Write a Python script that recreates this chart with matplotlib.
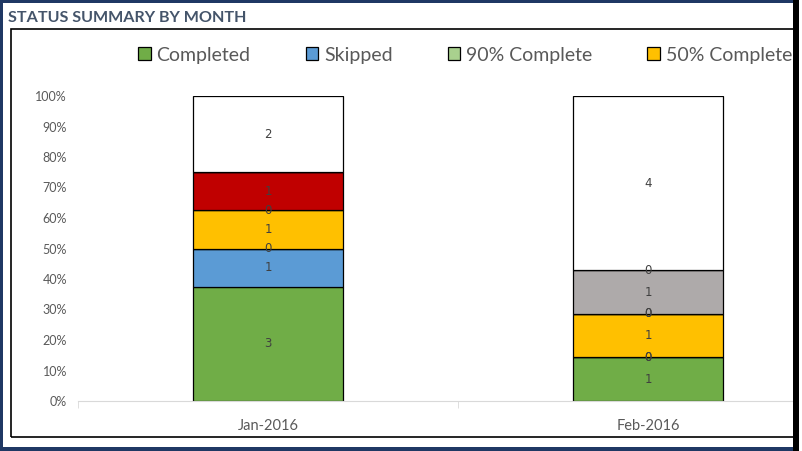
import matplotlib
matplotlib.use("Agg")
import matplotlib.pyplot as plt
import numpy as np
from matplotlib.patches import Rectangle
from matplotlib.ticker import PercentFormatter

months = ["Jan-2016", "Feb-2016"]
series = ["Completed", "Skipped", "90% Complete", "50% Complete", "25% Complete",
          "Overdue", "On Hold", "Deferred", "Not Started"]
colors = ["#70AD47", "#5B9BD5", "#A9D18E", "#FFC000", "#ED7D31",
          "#C00000", "#AEAAAA", "#7F7F7F", "#FFFFFF"]
counts = {
    "Jan-2016": [3, 1, 0, 1, 0, 1, 0, 0, 2],
    "Feb-2016": [1, 0, 0, 1, 0, 0, 1, 0, 4],
}
# labels the original chart does not show
hidden = {("Jan-2016", "On Hold"), ("Jan-2016", "Deferred")}
# legend entries visible before the torn edge
n_legend = 4

plt.rcParams['font.family'] = ['Lato', 'DejaVu Sans']
fig = plt.figure(figsize=(8.02, 4.51), dpi=100)
W, H = 802, 451

def box(x0, y0, x1, y1, **kw):
    fig.patches.append(Rectangle((x0 / W, 1 - y1 / H), (x1 - x0) / W, (y1 - y0) / H,
                                 transform=fig.transFigure, **kw))

# outer frame and chart box
box(0, 0, 802, 3, color="#1F3864", lw=0)
box(0, 0, 3, 451, color="#1F3864", lw=0)
box(0, 447, 802, 451, color="#1F3864", lw=0)
box(11, 29, 830, 437, fill=False, ec="black", lw=1.2)
fig.text(8 / W, 1 - 18 / H, "STATUS SUMMARY BY MONTH", fontsize=11.6, fontweight="bold",
         color="#44546A", va="center", ha="left")

ax = fig.add_axes([78 / W, 1 - 401 / H, 760 / W, 305 / H])
x = np.arange(len(months))
totals = np.array([sum(counts[m]) for m in months], dtype=float)
bottom = np.zeros(len(months))
for i, s in enumerate(series):
    vals = np.array([counts[m][i] for m in months], dtype=float)
    pct = vals / totals
    ax.bar(x, pct, 0.397, bottom=bottom, color=colors[i], edgecolor="black",
           linewidth=0.9, label=s)
    for j, m in enumerate(months):
        if (m, s) in hidden:
            continue
        ax.text(x[j], bottom[j] + pct[j] / 2, str(int(vals[j])), ha="center", va="center",
                fontsize=8.5, color="#404040", family="DejaVu Sans")
    bottom += pct

ax.set_xlim(-0.5, 1.5)
ax.set_ylim(0, 1)
ax.set_yticks(np.arange(0, 1.01, 0.1))
ax.yaxis.set_major_formatter(PercentFormatter(1.0, decimals=0))
ax.set_xticks(x)
ax.set_xticklabels(months)
ax.set_xticks([-0.5, 0.5, 1.5], minor=True)
ax.tick_params(axis="x", which="major", length=0, pad=13, labelsize=10.5, labelcolor="#595959")
ax.tick_params(axis="x", which="minor", length=5, color="#D9D9D9")
ax.tick_params(axis="y", length=0, pad=8, labelsize=9, labelcolor="#595959")
for sp in ["top", "right", "left"]:
    ax.spines[sp].set_visible(False)
ax.spines["bottom"].set_color("#D9D9D9")

fig.legend(handles=ax.containers[:n_legend], labels=series[:n_legend], loc="center left",
           bbox_to_anchor=(138 / W, 1 - 55 / H), ncol=n_legend, frameon=False,
           fontsize=14, labelcolor="#595959", handlelength=0.65, handleheight=0.65,
           handletextpad=0.3, columnspacing=2.83, borderaxespad=0, borderpad=0)

# torn right edge
box(793, 0, 799, 451, color="black", lw=0)
box(799, 0, 802, 451, color="white", lw=0)

fig.savefig("out.png", dpi=100)
